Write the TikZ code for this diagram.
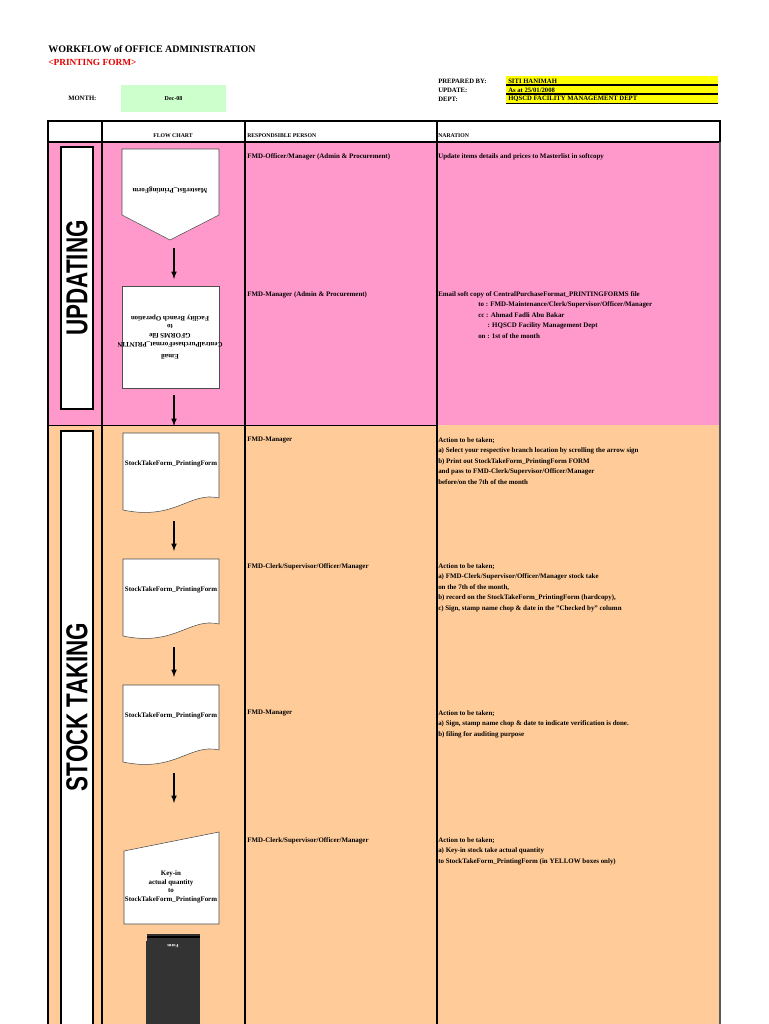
\documentclass[tikz,border=0pt]{standalone}
\usepackage{fontspec}
\setmainfont{Liberation Serif}
\newfontfamily\bannerfont{Liberation Sans}
\definecolor{pinkbg}{RGB}{255,153,204}
\definecolor{orangebg}{RGB}{255,204,153}
\definecolor{greenbg}{RGB}{204,255,204}
\definecolor{yell}{RGB}{255,255,0}
\definecolor{redt}{RGB}{230,0,0}
\begin{document}
\begin{tikzpicture}[x=0.75pt,y=-0.75pt,
  tiny/.style={font=\bfseries\fontsize{5.2}{7.9}\selectfont,anchor=north west,inner sep=0pt,align=left},
  hdr/.style={font=\bfseries\fontsize{5}{6}\selectfont,inner sep=0pt},
  shp/.style={draw=gray!60!black,fill=white,line width=0.4pt},
  lbl/.style={font=\bfseries\fontsize{5.2}{6.5}\selectfont,align=center,inner sep=0pt},
  flow/.style={-latex,line width=0.9pt},
  banner/.style={draw=black,fill=white,line width=2.2pt},
  bantext/.style={font=\bannerfont\bfseries\fontsize{16.8}{18}\selectfont,rotate=90,yscale=1.35,inner sep=0pt}]
\useasboundingbox (0,0) rectangle (768,1024);
\fill[white] (0,0) rectangle (768,1024);
\begin{scope}
\clip (0,0) rectangle (768,1024);
% header texts
\node[anchor=west,inner sep=0pt,font=\bfseries\fontsize{7.5}{9}\selectfont] (title) at (48,49) {WORKFLOW of OFFICE ADMINISTRATION};
\node[anchor=west,inner sep=0pt,text=redt,font=\bfseries\fontsize{7}{9}\selectfont] (sub) at (48,62) {<PRINTING FORM>};
\node[anchor=west,hdr] (month) at (68,98) {MONTH:};
\node[fill=greenbg,minimum width=105*0.75pt,minimum height=27*0.75pt,inner sep=0pt,font=\bfseries\fontsize{4.5}{5}\selectfont] (dec) at (173.5,98.5) {Dec-08};
\node[anchor=west,hdr] (prep) at (438,81) {PREPARED BY:};
\node[anchor=west,hdr] (upd) at (438,90) {UPDATE:};
\node[anchor=west,hdr] (dept) at (438,99) {DEPT:};
\fill[yell] (506,76) rectangle (718,103.5);
\draw[line width=0.8pt] (506,85) -- (718,85) (506,94) -- (718,94) (506,103.5) -- (718,103.5);
\node[anchor=west,hdr] (name) at (508,81) {SITI HANIMAH};
\node[anchor=west,hdr] (date) at (508,90) {As at 25/01/2008};
\node[anchor=west,hdr] (dname) at (508,99) {HQSCD FACILITY MANAGEMENT DEPT};
% table backgrounds
\fill[pinkbg] (48,142) rectangle (720,425);
\fill[orangebg] (48,425) rectangle (720,1030);
\draw[line width=0.9pt] (48,121) rectangle (720,1030);
\draw[line width=0.8pt] (48,142) -- (720,142);
\draw[line width=0.6pt] (48,425) -- (437,425);
\draw[line width=0.8pt] (102,121) -- (102,1030) (245,121) -- (245,1030) (437,121) -- (437,1030);
\draw[gray!70!black,line width=1.2pt] (720,142) -- (720,1030);
\node[hdr,font=\bfseries\fontsize{4.3}{5}\selectfont] (h1) at (173,136) {FLOW CHART};
\node[hdr,anchor=west,font=\bfseries\fontsize{4.3}{5}\selectfont] (h2) at (247,136) {RESPONDSIBLE PERSON};
\node[hdr,anchor=west,font=\bfseries\fontsize{4.3}{5}\selectfont] (h3) at (438,136) {NARATION};
% banners
\draw[banner] (61,147) rectangle (93,409);
\node[bantext] (b1) at (77,278) {UPDATING};
\draw[banner] (61,431) rectangle (93,1040);
\node[bantext] (b2) at (77,707) {STOCK TAKING};
% pentagon
\draw[shp] (122,149) -- (219,149) -- (219,215) -- (170,240) -- (122,215) -- cycle;
\node[lbl,rotate=180] (s1) at (170,190) {Masterlist\_PrintingForm};
\coordinate (s1b) at (174,248);
\coordinate (s2t) at (174,279);
% email box
\draw[shp] (122,286) rectangle (219,388);
\node[lbl,rotate=180] (s2) at (170,337) {Email\\[3pt]CentralPurchaseFormat\_PRINTIN\\GFORMS file\\to\\Facility Branch Operation};
\coordinate (s2b) at (174,395);
\coordinate (s3t) at (174,426);
\draw[flow] (s1b) -- (s2t);
\draw[flow] (s2b) -- (s3t);
% documents
\foreach \y/\n in {433/3,559/4,685/5}{
  \draw[shp] (123,\y) -- (219,\y) -- (219,\y+65) .. controls (190,\y+58) and (175,\y+88) .. (123,\y+77) -- cycle;
  \node[lbl] (s\n) at (171,\y+31) {StockTakeForm\_PrintingForm};
}
\coordinate (s3b) at (174,521);
\coordinate (s4t) at (174,551);
\coordinate (s4b) at (174,647);
\coordinate (s5t) at (174,677);
\coordinate (s5b) at (174,773);
\coordinate (s6t) at (174,803);
\draw[flow] (s3b) -- (s4t);
\draw[flow] (s4b) -- (s5t);
\draw[flow] (s5b) -- (s6t);
% manual input
\draw[shp] (124,851) -- (219,832) -- (219,924) -- (124,924) -- cycle;
\node[lbl] (s6) at (171,887) {Key-in\\actual quantity\\to\\StockTakeForm\_PrintingForm};
% bottom dark element
\fill[black!80] (147,934) rectangle (200,952);
\draw[black,line width=1pt] (147,937) -- (200,937);
\fill[black!80] (146,941) rectangle (200,1030);
\node[lbl,text=white,rotate=180,font=\bfseries\fontsize{3.5}{4}\selectfont] (fm) at (173,946) {Form};
% responsible persons
\node[tiny] (r1) at (247,153) {FMD-Officer/Manager (Admin \& Procurement)};
\node[tiny] (r2) at (247,291) {FMD-Manager (Admin \& Procurement)};
\node[tiny] (r3) at (247,437) {FMD-Manager};
\node[tiny] (r4) at (247,563) {FMD-Clerk/Supervisor/Officer/Manager};
\node[tiny] (r5) at (247,710) {FMD-Manager};
\node[tiny] (r6) at (247,837) {FMD-Clerk/Supervisor/Officer/Manager};
% narration
\node[tiny] (n1) at (438,153) {Update items details and prices to Masterlist in softcopy};
\node[tiny] (n2) at (438,291) {Email soft copy of CentralPurchaseFormat\_PRINTINGFORMS file\\
\hspace*{30pt}to : FMD-Maintenance/Clerk/Supervisor/Officer/Manager\\
\hspace*{30pt}cc : Ahmad Fadli Abu Bakar\\
\hspace*{37pt}: HQSCD Facility Management Dept\\
\hspace*{30pt}on : 1st of the month};
\node[tiny] (n3) at (438,437) {Action to be taken;\\a) Select your respective branch location by scrolling the arrow sign\\b) Print out StockTakeForm\_PrintingForm FORM\\and pass to FMD-Clerk/Supervisor/Officer/Manager\\before/on the 7th of the month};
\node[tiny] (n4) at (438,563) {Action to be taken;\\a) FMD-Clerk/Supervisor/Officer/Manager stock take\\on the 7th of the month,\\b) record on the StockTakeForm\_PrintingForm (hardcopy),\\c) Sign, stamp name chop \& date in the ''Checked by'' column};
\node[tiny] (n5) at (438,710) {Action to be taken;\\a) Sign, stamp name chop \& date to indicate verification is done.\\b) filing for auditing purpose};
\node[tiny] (n6) at (438,837) {Action to be taken;\\a) Key-in stock take actual quantity\\to StockTakeForm\_PrintingForm (in YELLOW boxes only)};
\end{scope}
\end{tikzpicture}
\end{document}
